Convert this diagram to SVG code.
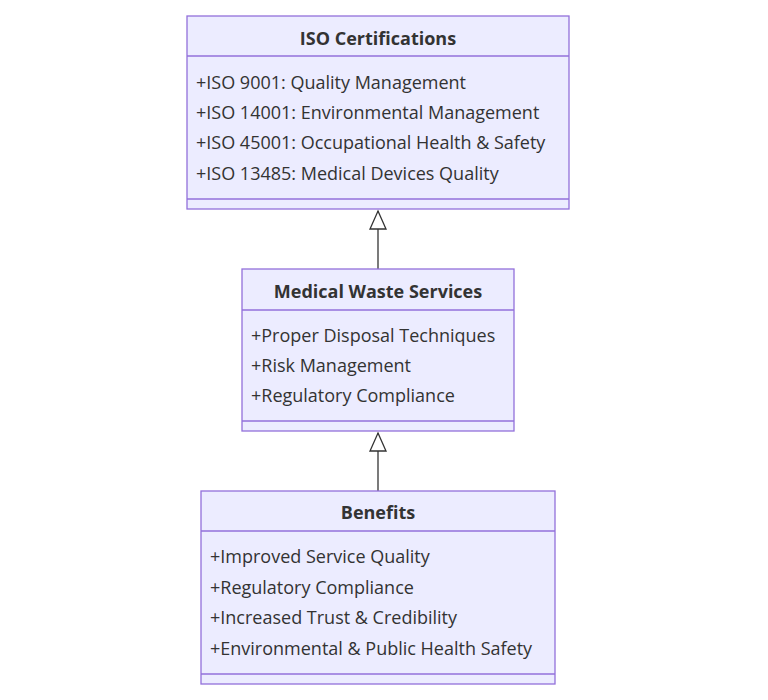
<svg xmlns="http://www.w3.org/2000/svg" width="768" height="700" viewBox="0 0 768 700">
<style>
.box{fill:#ECECFF;stroke:#9370DB;stroke-width:1.3}
.ln{stroke:#9370DB;stroke-width:1.3}
text{font-family:"Open Sans","DejaVu Sans",sans-serif;font-size:18px;fill:#333}
.t{font-weight:bold;text-anchor:middle}
.c{stroke:#333;stroke-width:1.3;fill:none}
</style>
<defs><marker id="tri" viewBox="0 0 20 20" refX="10" refY="1" markerWidth="16" markerHeight="16" markerUnits="userSpaceOnUse" orient="auto-start-reverse"><path d="M10,1 L18,19 L2,19 Z" fill="#fff" stroke="#333" stroke-width="1.3" transform="rotate(0)"/></marker></defs>
<rect width="768" height="700" fill="#fff"/>
<g id="connectors">
<line class="c" x1="378" y1="269" x2="378" y2="211"/>
<path d="M378,211 L386,229 L370,229 Z" fill="#fff" stroke="#333" stroke-width="1.3"/>
<line class="c" x1="378" y1="491" x2="378" y2="433"/>
<path d="M378,433 L386,451 L370,451 Z" fill="#fff" stroke="#333" stroke-width="1.3"/>
</g>
<g id="iso">
<rect class="box" x="187" y="16" width="382" height="193"/>
<line class="ln" x1="187" y1="56" x2="569" y2="56"/>
<line class="ln" x1="187" y1="199" x2="569" y2="199"/>
<text class="t" x="378" y="45">ISO Certifications</text>
<text x="196" y="89">+ISO 9001: Quality Management</text>
<text x="196" y="119">+ISO 14001: Environmental Management</text>
<text x="196" y="149">+ISO 45001: Occupational Health &amp; Safety</text>
<text x="196" y="180">+ISO 13485: Medical Devices Quality</text>
</g>
<g id="mws">
<rect class="box" x="242" y="269" width="272" height="162"/>
<line class="ln" x1="242" y1="310" x2="514" y2="310"/>
<line class="ln" x1="242" y1="421" x2="514" y2="421"/>
<text class="t" x="378" y="298">Medical Waste Services</text>
<text x="251" y="342">+Proper Disposal Techniques</text>
<text x="251" y="372">+Risk Management</text>
<text x="251" y="402">+Regulatory Compliance</text>
</g>
<g id="benefits">
<rect class="box" x="201" y="491" width="354" height="193"/>
<line class="ln" x1="201" y1="531" x2="555" y2="531"/>
<line class="ln" x1="201" y1="674" x2="555" y2="674"/>
<text class="t" x="378" y="519">Benefits</text>
<text x="210" y="563">+Improved Service Quality</text>
<text x="210" y="594">+Regulatory Compliance</text>
<text x="210" y="624">+Increased Trust &amp; Credibility</text>
<text x="210" y="655">+Environmental &amp; Public Health Safety</text>
</g>
</svg>
